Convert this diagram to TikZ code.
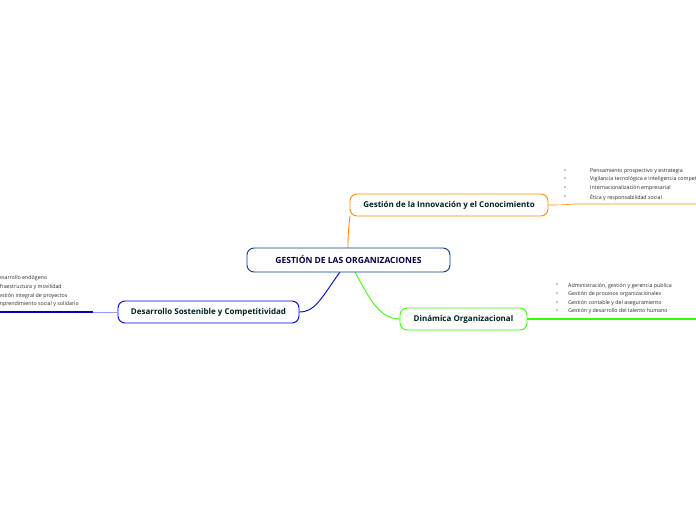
\documentclass[tikz,border=0pt]{standalone}
\usepackage{fontspec}
\setmainfont{Open Sans}
\begin{document}
\begin{tikzpicture}[x=1pt,y=-1pt,
 box/.style={draw,rounded corners=7pt,line width=0.9pt,fill=white,font=\fontsize{8}{9}\selectfont\bfseries,text=black!75!teal,inner sep=0pt},
 lst/.style={anchor=west,font=\fontsize{5.3}{6}\selectfont,text=black!85,inner sep=0pt}]
\useasboundingbox (0,0) rectangle (696,520);
\clip (0,0) rectangle (696,520);
% connectors
\coordinate (o1) at (348,248); \coordinate (o2) at (340,272); \coordinate (o3) at (355,272);
\draw[orange!90!yellow,line width=0.9pt] (o1) .. controls (348,230) and (349,226) .. (350,216);
\draw[blue!85!black,line width=0.9pt] (o2) .. controls (320,300) and (315,312) .. (299,312);
\draw[green!80!yellow,line width=0.9pt] (o3) .. controls (370,300) and (380,319) .. (400,319);
% nodes
\node[box,draw=blue!40!teal!80!black,minimum width=203pt,minimum height=24pt,text=blue!30!black,font=\fontsize{8.5}{9}\selectfont\bfseries] (c) at (348.5,260) {GESTIÓN DE LAS ORGANIZACIONES};
\node[box,draw=orange!90!yellow,minimum width=198pt,minimum height=22pt] (a) at (449,205) {Gestión de la Innovación y el Conocimiento};
\node[box,draw=green!80!yellow,minimum width=127pt,minimum height=22pt] (b) at (463.5,319) {Dinámica Organizacional};
\node[box,draw=blue!85!black,minimum width=181pt,minimum height=22pt] (d) at (208.5,312) {Desarrollo Sostenible y Competitividad};
% branch lines
\coordinate (ae) at (696,204); \coordinate (be) at (696,319); \coordinate (de) at (0,312); \coordinate (dm) at (93,312);
\draw[orange!90!yellow,line width=0.6pt] (a.east) .. controls (560,205) .. (575,204) -- (ae);
\draw[green!80!yellow,line width=1.5pt] (b.east) -- (be);
\draw[blue!40,line width=0.6pt] (d.west) -- (dm);
\draw[blue!80!black,line width=1.2pt] (dm) -- (de);
% lists
\foreach \t [count=\i] in {Pensamiento prospectivo y estrategia,Vigilancia tecnológica e inteligencia competitiva,Internacionalización empresarial,Ética y responsabilidad social}{
 \node[lst] (ta\i) at (590,162+8.8*\i) {\t};
 \node[lst] (ba\i) at (564,162+8.8*\i) {•};}
\foreach \t [count=\i] in {{Administración, gestión y gerencia publica},Gestión de procesos organizacionales,Gestión contable y del aseguramiento,Gestión y desarrollo del talento humano}{
 \node[lst] (tb\i) at (568,277+8.6*\i) {\t};
 \node[lst] (bb\i) at (556,277+8.6*\i) {•};}
\foreach \t [count=\i] in {Desarrollo endógeno,Infraestructura y movilidad,Gestión integral de proyectos,Emprendimiento social y solidario}{
 \node[lst] (td\i) at (-5,270+8.6*\i) {\t};}
\end{tikzpicture}
\end{document}
